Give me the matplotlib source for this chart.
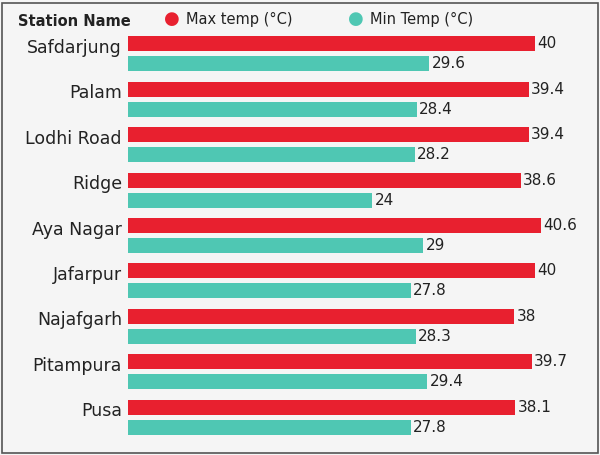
import matplotlib.pyplot as plt
import numpy as np
from matplotlib.patches import Rectangle

stations = ["Safdarjung","Palam","Lodhi Road","Ridge","Aya Nagar","Jafarpur","Najafgarh","Pitampura","Pusa"]
max_temp = [40,39.4,39.4,38.6,40.6,40,38,39.7,38.1]
min_temp = [29.6,28.4,28.2,24,29,27.8,28.3,29.4,27.8]
max_labels = ["40","39.4","39.4","38.6","40.6","40","38","39.7","38.1"]
min_labels = ["29.6","28.4","28.2","24","29","27.8","28.3","29.4","27.8"]

RED = "#e8202f"; TEAL = "#4fc7b3"
fig = plt.figure(figsize=(6,4.55), dpi=100)
fig.patch.set_facecolor("#f5f5f5")
fig.add_artist(Rectangle((0.004,0.004),0.992,0.99,transform=fig.transFigure,fill=False,ec="#555555",lw=1.2))

x0, x1 = 128/600, 590/600
ax = fig.add_axes([x0, 1-440/455, x1-x0, (440-33)/455])
ax.set_facecolor("none")
scale = 10.17
ax.set_xlim(0, (590-128)/scale)
n = len(stations)
y = np.arange(n)*45.4
ax.set_ylim(y[-1]+33, -11)
h = 15
ax.barh(y, max_temp, height=h, color=RED)
ax.barh(y+20, min_temp, height=h, color=TEAL)
for i in range(n):
    ax.text(max_temp[i]+0.25, y[i], max_labels[i], va="center", ha="left", fontsize=11, color="#222222")
    ax.text(min_temp[i]+0.25, y[i]+20, min_labels[i], va="center", ha="left", fontsize=11, color="#222222")
    ax.text(-0.6, y[i]+4, stations[i], va="center", ha="right", fontsize=12.5, color="#222222", clip_on=False)
ax.axis("off")

fig.text(18/600, 1-21/455, "Station Name", fontsize=10.5, fontweight="bold", va="center", color="#222222")
fig.add_artist(plt.Circle((172/600, 1-19/455), 0.0, color=RED))
fig.text(172/600, 1-19/455, "●", color=RED, fontsize=13, ha="center", va="center")
fig.text(186/600, 1-19/455, "Max temp (°C)", fontsize=10.5, va="center", color="#222222")
fig.text(356/600, 1-19/455, "●", color=TEAL, fontsize=13, ha="center", va="center")
fig.text(370/600, 1-19/455, "Min Temp (°C)", fontsize=10.5, va="center", color="#222222")
fig.savefig("out.png", dpi=100, facecolor=fig.get_facecolor())
